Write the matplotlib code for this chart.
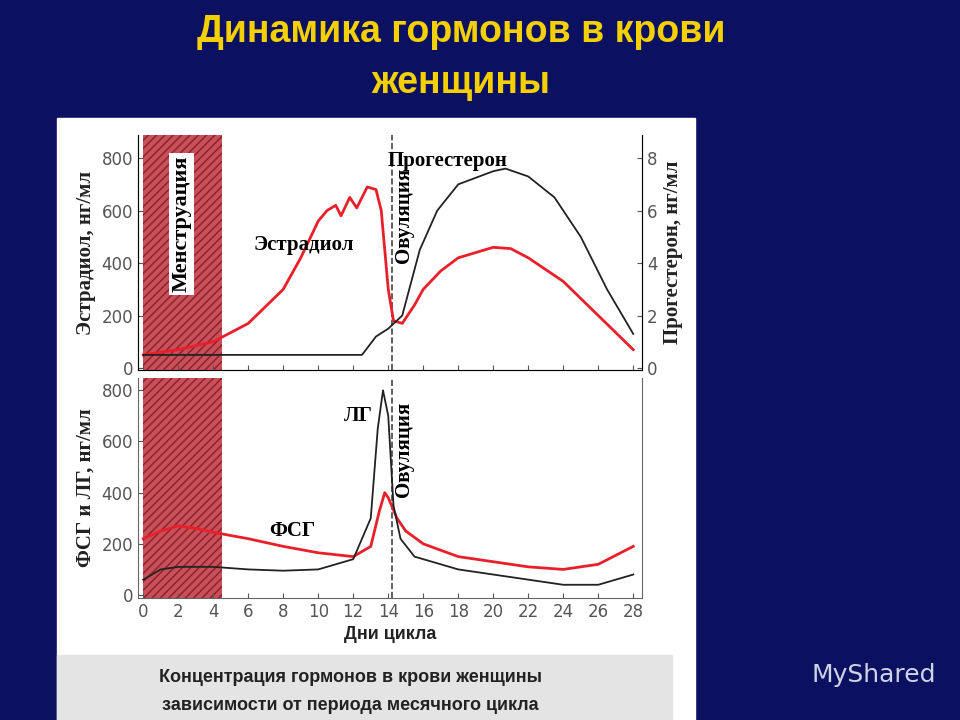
# Гормоны менструального цикла: два графика на синем фоне слайда
import matplotlib
matplotlib.use('Agg')
import matplotlib.pyplot as plt
from matplotlib.patches import Rectangle

# эстрадиол, нг/мл (верхний график, левая ось)
estr_day = [0, 2, 4, 6, 8, 9, 10, 10.5, 11, 11.3, 11.8, 12.2, 12.8, 13.3, 13.6, 14, 14.3, 14.8, 15.5, 16, 17, 18, 20, 21, 22, 24, 26, 28]
estr_val = [50, 70, 100, 170, 300, 420, 560, 600, 620, 580, 650, 610, 690, 680, 600, 300, 180, 170, 240, 300, 370, 420, 460, 455, 420, 330, 200, 70]
# прогестерон, нг/мл (верхний график, правая ось)
prog_day = [0, 4, 8, 12.5, 13.3, 14, 14.8, 15.2, 15.8, 16.8, 18, 20, 20.7, 22, 23.5, 25, 26.5, 28]
prog_val = [0.5, 0.5, 0.5, 0.5, 1.2, 1.5, 2.0, 3.0, 4.5, 6.0, 7.0, 7.5, 7.6, 7.3, 6.5, 5.0, 3.0, 1.3]
# ФСГ и ЛГ, нг/мл (нижний график)
fsh_day = [0, 1, 2, 3, 4, 6, 8, 10, 12, 13, 13.5, 13.8, 14, 14.5, 15, 16, 18, 20, 22, 24, 26, 28]
fsh_val = [220, 250, 270, 260, 245, 220, 190, 165, 150, 190, 330, 400, 380, 300, 250, 200, 150, 130, 110, 100, 120, 190]
lh_day = [0, 1, 2, 4, 6, 8, 10, 12, 13, 13.4, 13.7, 14, 14.3, 14.7, 15.5, 18, 20, 22, 24, 26, 28]
lh_val = [60, 100, 110, 110, 100, 95, 100, 140, 300, 650, 800, 700, 350, 220, 150, 100, 80, 60, 40, 40, 80]

days = list(range(0, 29, 2))
RED = "#e8202a"
BG = "#0b1160"

fig = plt.figure(figsize=(9.6, 7.2), dpi=100, facecolor=BG)
fig.patches.append(Rectangle((57 / 960, 0), (695 - 57) / 960, 1 - 118 / 720,
                             transform=fig.transFigure, color="white", zorder=-10))
fig.patches.append(Rectangle((57 / 960, 0), (672 - 57) / 960, 1 - 655 / 720,
                             transform=fig.transFigure, color="#e4e4e4", zorder=-10))

sans = "Liberation Sans"
fig.text(0.48, 0.955, "Динамика гормонов в крови", color="#f5d000", fontsize=27,
         family=sans, fontweight="bold", ha="center", va="center")
fig.text(0.48, 0.885, "женщины", color="#f5d000", fontsize=27,
         family=sans, fontweight="bold", ha="center", va="center")

def px(x0, y0, x1, y1):
    return [x0 / 960, 1 - y1 / 720, (x1 - x0) / 960, (y1 - y0) / 720]

serif = "Liberation Serif"
top = fig.add_axes(px(138, 135, 642, 370))
bot = fig.add_axes(px(138, 378, 642, 598))
for ax in (top, bot):
    ax.set_facecolor("none")
    ax.set_xlim(-0.3, 28.5)
    ax.add_patch(Rectangle((0, -20), 4.5, 2000, facecolor="#c8505a", edgecolor="#8a1f28",
                           hatch="////", linewidth=0, zorder=0))
    ax.axvline(14.2, color="#444", linestyle="--", linewidth=1.2)
    ax.set_xticks(days)
    ax.tick_params(labelsize=12, colors="#555", direction="in")
    for s in ax.spines.values():
        s.set_color("#666")
    ax.spines["top"].set_visible(False)
    ax.set_yticks([0, 200, 400, 600, 800])

top.set_ylim(-7.6, 888)
top.tick_params(labelbottom=False)
top.plot(estr_day, estr_val, color=RED, linewidth=2)
rt = top.twinx()
rt.set_ylim(-0.076, 8.88)
rt.set_yticks([0, 2, 4, 6, 8])
rt.tick_params(labelsize=12, colors="#555", direction="in")
rt.spines["top"].set_visible(False)
rt.plot(prog_day, prog_val, color="#222", linewidth=1.3)
rt.set_ylabel("Прогестерон, нг/мл", family=serif, fontsize=15, fontweight="bold", color="#222")
top.set_ylabel("Эстрадиол, нг/мл", family=serif, fontsize=15, fontweight="bold", color="#222")
top.text(2.2, 550, "Менструация", rotation=90, family=serif, fontsize=16, fontweight="bold",
         ha="center", va="center", bbox=dict(facecolor="white", edgecolor="none", pad=2))
top.text(14.9, 580, "Овуляция", rotation=90, family=serif, fontsize=15, fontweight="bold", ha="center", va="center")
top.text(6.3, 450, "Эстрадиол", family=serif, fontsize=15, fontweight="bold")
top.text(17.4, 770, "Прогестерон", family=serif, fontsize=15, fontweight="bold", ha="center")

bot.set_ylim(-11.7, 848)
bot.plot(fsh_day, fsh_val, color=RED, linewidth=2)
bot.plot(lh_day, lh_val, color="#222", linewidth=1.3)
bot.set_ylabel("ФСГ и ЛГ, нг/мл", family=serif, fontsize=15, fontweight="bold", color="#222")
bot.set_xlabel("Дни цикла", family=sans, fontsize=13, fontweight="bold", color="#222", labelpad=4)
bot.text(14.9, 570, "Овуляция", rotation=90, family=serif, fontsize=15, fontweight="bold", ha="center", va="center")
bot.text(12.3, 680, "ЛГ", family=serif, fontsize=15, fontweight="bold", ha="center")
bot.text(7.2, 230, "ФСГ", family=serif, fontsize=15, fontweight="bold")

fig.text(0.365, 1 - 678 / 720, "Концентрация гормонов в крови женщины", fontsize=13,
         family=sans, fontweight="bold", ha="center", va="center", color="#222")
fig.text(0.365, 1 - 705 / 720, "зависимости от периода месячного цикла", fontsize=13,
         family=sans, fontweight="bold", ha="center", va="center", color="#222")
fig.text(0.845, 1 - 675 / 720, "MyShared", fontsize=18, color="#cfd3e6", ha="left", va="center")

fig.savefig("out.png", dpi=100, facecolor=BG)
